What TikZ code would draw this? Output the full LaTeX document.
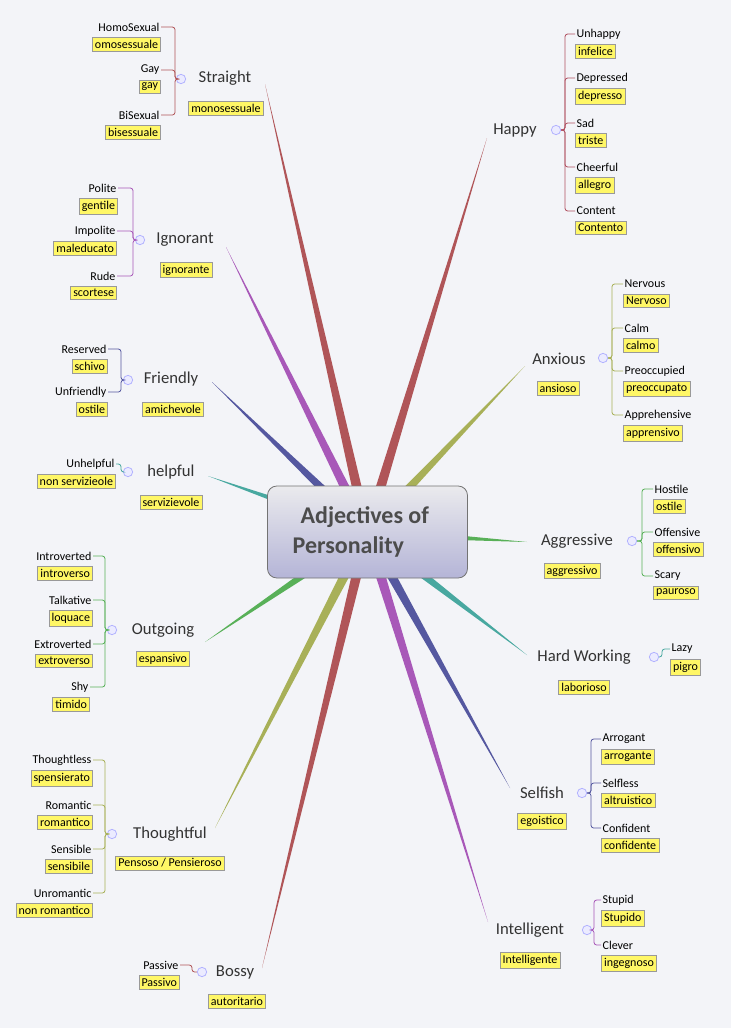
\documentclass[tikz,border=0pt]{standalone}
\usepackage{fontspec}
\setmainfont{Carlito}
\usetikzlibrary{calc}
\definecolor{bg}{HTML}{F3F4F8}
\definecolor{cRed}{HTML}{B05558}
\definecolor{cPur}{HTML}{A858B8}
\definecolor{cNav}{HTML}{5558A0}
\definecolor{cTeal}{HTML}{48A8A0}
\definecolor{cGrn}{HTML}{58B058}
\definecolor{cOli}{HTML}{A8B058}
\definecolor{cBr}{HTML}{B05060}
\tikzset{
 sub/.style={font=\fontsize{9}{10}\selectfont,text=black,inner sep=1pt},
 ybox/.style={font=\fontsize{9}{10}\selectfont,fill=yellow!60!white,draw=black!40,inner sep=2pt,line width=0.5pt},
 topic/.style={font=\fontsize{12.5}{14}\selectfont,text=black!80,inner sep=1pt},
 circ/.style={circle,draw=blue!30,fill=blue!8,minimum size=7pt,inner sep=0pt,line width=0.6pt},
 brk/.style={line width=0.6pt,rounded corners=2pt},
}
\newcommand\LS[5]{%
 \node[sub,anchor=east] (#1) at (#2,#3) {#4};
 \node[ybox,anchor=north east] (#1b) at ($(#2,#3)+(0,10)$) {#5};}
\newcommand\RS[5]{%
 \node[sub,anchor=west] (#1) at (#2,#3) {#4};
 \node[ybox,anchor=north west] (#1b) at ($(#2,#3)+(0,10)$) {#5};}
\newcommand\branch[2]{%
 \fill[#1] ($(C)!4pt!90:(#2)$) -- ($(C)!4pt!-90:(#2)$) -- (#2) -- cycle;}
\newcommand\hooks[5]{% list, anchor, color, joint, circle
 \foreach \qq in {#1}{\draw[brk,#3] (\qq.#2) -| (#4) -- (#5);}}
\begin{document}
\begin{tikzpicture}[x=0.75pt,y=-0.75pt]
\fill[bg] (0,0) rectangle (731,1028);
\useasboundingbox (0,0) rectangle (731,1028);
\coordinate (C) at (367,532);
\coordinate (eStr) at (265,84);
\coordinate (eIgn) at (226,247);
\coordinate (eFri) at (212,382);
\coordinate (eHel) at (208,476);
\coordinate (eOut) at (205,642);
\coordinate (eTho) at (215,828);
\coordinate (eBos) at (262,968);
\coordinate (eHap) at (487,138);
\coordinate (eAnx) at (525,366);
\coordinate (eAgg) at (527,542);
\coordinate (eHar) at (527,655);
\coordinate (eSel) at (510,788);
\coordinate (eInt) at (488,922);
\branch{cRed}{eStr}
\branch{cPur}{eIgn}
\branch{cNav}{eFri}
\branch{cTeal}{eHel}
\branch{cGrn}{eOut}
\branch{cOli}{eTho}
\branch{cRed}{eBos}
\branch{cRed}{eHap}
\branch{cOli}{eAnx}
\branch{cGrn}{eAgg}
\branch{cTeal}{eHar}
\branch{cNav}{eSel}
\branch{cPur}{eInt}
\node[draw=black!55,rounded corners=7pt,top color=blue!8!gray!15,bottom color=blue!30!gray!45,
 minimum width=150pt,minimum height=69pt,font=\fontsize{18}{22}\selectfont\bfseries,text=black!70,align=left,line width=0.6pt]
 (centre) at (367.5,532) {\hspace*{-4pt}Adjectives of\\\hspace*{-10pt}Personality};
\node[topic] (Str) at (225,78) {Straight};
\node[ybox] (Strb) at (226,108) {monosessuale};
\node[topic] (Ign) at (185,240) {Ignorant};
\node[ybox] (Ignb) at (186,270) {ignorante};
\node[topic] (Fri) at (171,379) {Friendly};
\node[ybox] (Frib) at (173,409) {amichevole};
\node[topic] (Hel) at (171,472) {helpful};
\node[ybox] (Helb) at (171,502) {servizievole};
\node[topic] (Out) at (163,630) {Outgoing};
\node[ybox] (Outb) at (163,659) {espansivo};
\node[topic] (Tho) at (170,834) {Thoughtful};
\node[ybox] (Thob) at (170,863) {Pensoso / Pensieroso};
\node[topic] (Bos) at (235,972) {Bossy};
\node[ybox] (Bosb) at (237,1001) {autoritario};
\node[topic] (Hap) at (515,130) {Happy};
\node[topic] (Anx) at (559,359) {Anxious};
\node[ybox] (Anxb) at (558,388) {ansioso};
\node[topic] (Agg) at (577,541) {Aggressive};
\node[ybox] (Aggb) at (572,571) {aggressivo};
\node[topic] (Har) at (584,657) {Hard Working};
\node[ybox] (Harb) at (584,687) {laborioso};
\node[topic] (Sel) at (542,793) {Selfish};
\node[ybox] (Selb) at (542,821) {egoistico};
\node[topic] (Int) at (530,930) {Intelligent};
\node[ybox] (Intb) at (530,960) {Intelligente};
\node[circ] (kStr) at (181,79) {};
\node[circ] (kIgn) at (140,240) {};
\node[circ] (kFri) at (128,380) {};
\node[circ] (kHel) at (128,472) {};
\node[circ] (kOut) at (112,630) {};
\node[circ] (kTho) at (112,834) {};
\node[circ] (kBos) at (202,972) {};
\node[circ] (kHap) at (556,130) {};
\node[circ] (kAnx) at (603,358) {};
\node[circ] (kAgg) at (632,541) {};
\node[circ] (kHar) at (654,657) {};
\node[circ] (kSel) at (582,793) {};
\node[circ] (kInt) at (587,930) {};
\coordinate (jStr) at (175,79);
\coordinate (jIgn) at (133,240);
\coordinate (jFri) at (121,380);
\coordinate (jHel) at (121,472);
\coordinate (jOut) at (105,630);
\coordinate (jTho) at (105,834);
\coordinate (jBos) at (192,972);
\coordinate (jHap) at (565,130);
\coordinate (jAnx) at (612,358);
\coordinate (jAgg) at (642,541);
\coordinate (jHar) at (662,657);
\coordinate (jSel) at (591,793);
\coordinate (jInt) at (594,930);
\LS{s1}{161}{27}{HomoSexual}{omosessuale}
\LS{s2}{161}{70}{Gay}{gay}
\LS{s3}{161}{115}{BiSexual}{bisessuale}
\hooks{s1,s2,s3}{east}{cRed}{jStr}{kStr}
\LS{i1}{118}{188}{Polite}{gentile}
\LS{i2}{117}{231}{Impolite}{maleducato}
\LS{i3}{117}{276}{Rude}{scortese}
\hooks{i1,i2,i3}{east}{cPur}{jIgn}{kIgn}
\LS{f1}{108}{349}{Reserved}{schivo}
\LS{f2}{108}{392}{Unfriendly}{ostile}
\hooks{f1,f2}{east}{cNav}{jFri}{kFri}
\LS{h1}{116}{464}{Unhelpful}{non servizieole}
\hooks{h1}{east}{cTeal}{jHel}{kHel}
\LS{o1}{93}{556}{Introverted}{introverso}
\LS{o2}{93}{600}{Talkative}{loquace}
\LS{o3}{93}{644}{Extroverted}{extroverso}
\LS{o4}{90}{687}{Shy}{timido}
\hooks{o1,o2,o3,o4}{east}{cGrn}{jOut}{kOut}
\LS{t1}{93}{760}{Thoughtless}{spensierato}
\LS{t2}{93}{805}{Romantic}{romantico}
\LS{t3}{93}{849}{Sensible}{sensibile}
\LS{t4}{93}{893}{Unromantic}{non romantico}
\hooks{t1,t2,t3,t4}{east}{cOli}{jTho}{kTho}
\LS{b1}{180}{965}{Passive}{Passivo}
\hooks{b1}{east}{cRed}{jBos}{kBos}
\RS{p1}{575}{34}{Unhappy}{infelice}
\RS{p2}{575}{78}{Depressed}{depresso}
\RS{p3}{575}{123}{Sad}{triste}
\RS{p4}{575}{167}{Cheerful}{allegro}
\RS{p5}{575}{211}{Content}{Contento}
\hooks{p1,p2,p3,p4,p5}{west}{cBr}{jHap}{kHap}
\RS{a1}{623}{284}{Nervous}{Nervoso}
\RS{a2}{623}{328}{Calm}{calmo}
\RS{a3}{623}{371}{Preoccupied}{preoccupato}
\RS{a4}{623}{415}{Apprehensive}{apprensivo}
\hooks{a1,a2,a3,a4}{west}{cOli}{jAnx}{kAnx}
\RS{g1}{653}{489}{Hostile}{ostile}
\RS{g2}{653}{532}{Offensive}{offensivo}
\RS{g3}{653}{576}{Scary}{pauroso}
\hooks{g1,g2,g3}{west}{cGrn}{jAgg}{kAgg}
\RS{w1}{670}{649}{Lazy}{pigro}
\hooks{w1}{west}{cTeal}{jHar}{kHar}
\RS{e1}{601}{739}{Arrogant}{arrogante}
\RS{e2}{601}{783}{Selfless}{altruistico}
\RS{e3}{601}{828}{Confident}{confidente}
\hooks{e1,e2,e3}{west}{cNav}{jSel}{kSel}
\RS{n1}{601}{900}{Stupid}{Stupido}
\RS{n2}{601}{945}{Clever}{ingegnoso}
\hooks{n1,n2}{west}{cPur}{jInt}{kInt}
\end{tikzpicture}
\end{document}
